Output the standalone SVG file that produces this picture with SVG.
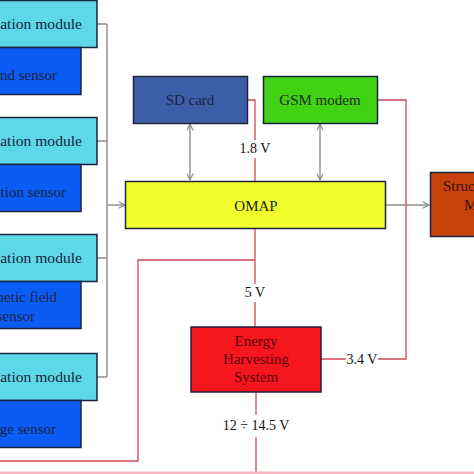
<svg xmlns="http://www.w3.org/2000/svg" width="474" height="474" viewBox="0 0 474 474">
<defs>
<style>
text{font-family:"Liberation Serif","Times New Roman",serif;font-size:15px;}
.lbl{font-size:14px;fill:#111;text-anchor:middle;}
.cm{font-size:15.6px;}
.box{stroke:#1c2340;stroke-width:1.5;}
.cyan{fill:#5cd8e6;}
.blue{fill:#0b5cf4;}
.gray{fill:none;stroke:#8c8c8c;stroke-width:1.4;}
.red{fill:none;stroke:#d24a5a;stroke-width:1.3;}
.dk{fill:#1a2440;}
</style>
<marker id="ah" viewBox="0 0 10 10" refX="9" refY="5" markerWidth="8" markerHeight="8" markerUnits="userSpaceOnUse" orient="auto-start-reverse">
<path d="M1,1 L9,5 L1,9" fill="none" stroke="#8c8c8c" stroke-width="1.4"/>
</marker>
</defs>
<rect width="474" height="474" fill="#fff"/>
<g id="connectors">
<path class="gray" d="M97,24 H107 M97,141 H107 M97,258 H107 M97,377 H107 M107,24 V377"/>
<path class="gray" d="M107,205 H125" marker-end="url(#ah)"/>
<path class="gray" d="M386,205 H429" marker-end="url(#ah)"/>
<path class="gray" d="M190,124 V180" marker-start="url(#ah)" marker-end="url(#ah)"/>
<path class="gray" d="M320,124 V180" marker-start="url(#ah)" marker-end="url(#ah)"/>
<path class="red" d="M248,100 H255 V140 M255,158 V284 M255,302 V327"/>
<path class="red" d="M255,260 H138 V461 H0"/>
<path class="red" d="M256,392 V415 M256,437 V474"/>
<path class="red" d="M378,100 H406 V359 H378 M346,359 H321"/>
<line x1="0" y1="473" x2="474" y2="473" stroke="#f7b6be" stroke-width="3"/>
<text class="lbl" x="255" y="153">1.8 V</text>
<text class="lbl" x="255" y="297">5 V</text>
<text class="lbl" x="362" y="364">3.4 V</text>
<text class="lbl" x="256" y="430">12 ÷ 14.5 V</text>
</g>
<g id="wind">
<rect class="box cyan" x="-10" y="0.5" width="107" height="47"/>
<text class="dk cm" x="82" y="29" text-anchor="end">ation module</text>
<rect class="box blue" x="-10" y="47.5" width="91" height="47"/>
<text class="dk" x="57" y="80" text-anchor="end">nd sensor</text>
</g>
<g id="vibration">
<rect class="box cyan" x="-10" y="117.5" width="107" height="47"/>
<text class="dk cm" x="82" y="146" text-anchor="end">ation module</text>
<rect class="box blue" x="-10" y="164.5" width="91" height="47"/>
<text class="dk" x="66" y="197" text-anchor="end">tion sensor</text>
</g>
<g id="magnetic">
<rect class="box cyan" x="-10" y="234.5" width="107" height="47"/>
<text class="dk cm" x="82" y="263" text-anchor="end">ation module</text>
<rect class="box blue" x="-10" y="281.5" width="91" height="47"/>
<text class="dk" x="57" y="302" text-anchor="end">netic field</text>
<text class="dk" x="35" y="321" text-anchor="end">sensor</text>
</g>
<g id="gauge">
<rect class="box cyan" x="-10" y="353.5" width="107" height="47"/>
<text class="dk cm" x="82" y="382" text-anchor="end">ation module</text>
<rect class="box blue" x="-10" y="400.5" width="91" height="47"/>
<text class="dk" x="56" y="434" text-anchor="end">ge sensor</text>
</g>
<g id="sdcard">
<rect class="box" x="133.5" y="76.5" width="114" height="47" fill="#3c5ea8"/>
<text class="dk" x="190" y="105" text-anchor="middle">SD card</text>
</g>
<g id="gsm">
<rect class="box" x="263.5" y="76.5" width="114" height="47" fill="#42d214"/>
<text x="320" y="105" text-anchor="middle" fill="#16301a">GSM modem</text>
</g>
<g id="omap">
<rect class="box" x="125.5" y="181.5" width="260" height="47" fill="#f0ff2c"/>
<text x="256" y="211" text-anchor="middle" fill="#222">OMAP</text>
</g>
<g id="energy">
<rect class="box" x="191" y="327" width="130" height="65" fill="#f5161e"/>
<text x="256" y="346" text-anchor="middle" fill="#5a0008" font-size="15.3">Energy</text>
<text x="256" y="364" text-anchor="middle" fill="#5a0008" font-size="15.3">Harvesting</text>
<text x="256" y="382" text-anchor="middle" fill="#5a0008" font-size="15.3">System</text>
</g>
<g id="structural">
<rect class="box" x="430.5" y="172.5" width="60" height="64" fill="#c8420c"/>
<text x="443" y="191" fill="#3a1000">Struc</text>
<text x="464" y="210" fill="#3a1000">M</text>
</g>
</svg>
